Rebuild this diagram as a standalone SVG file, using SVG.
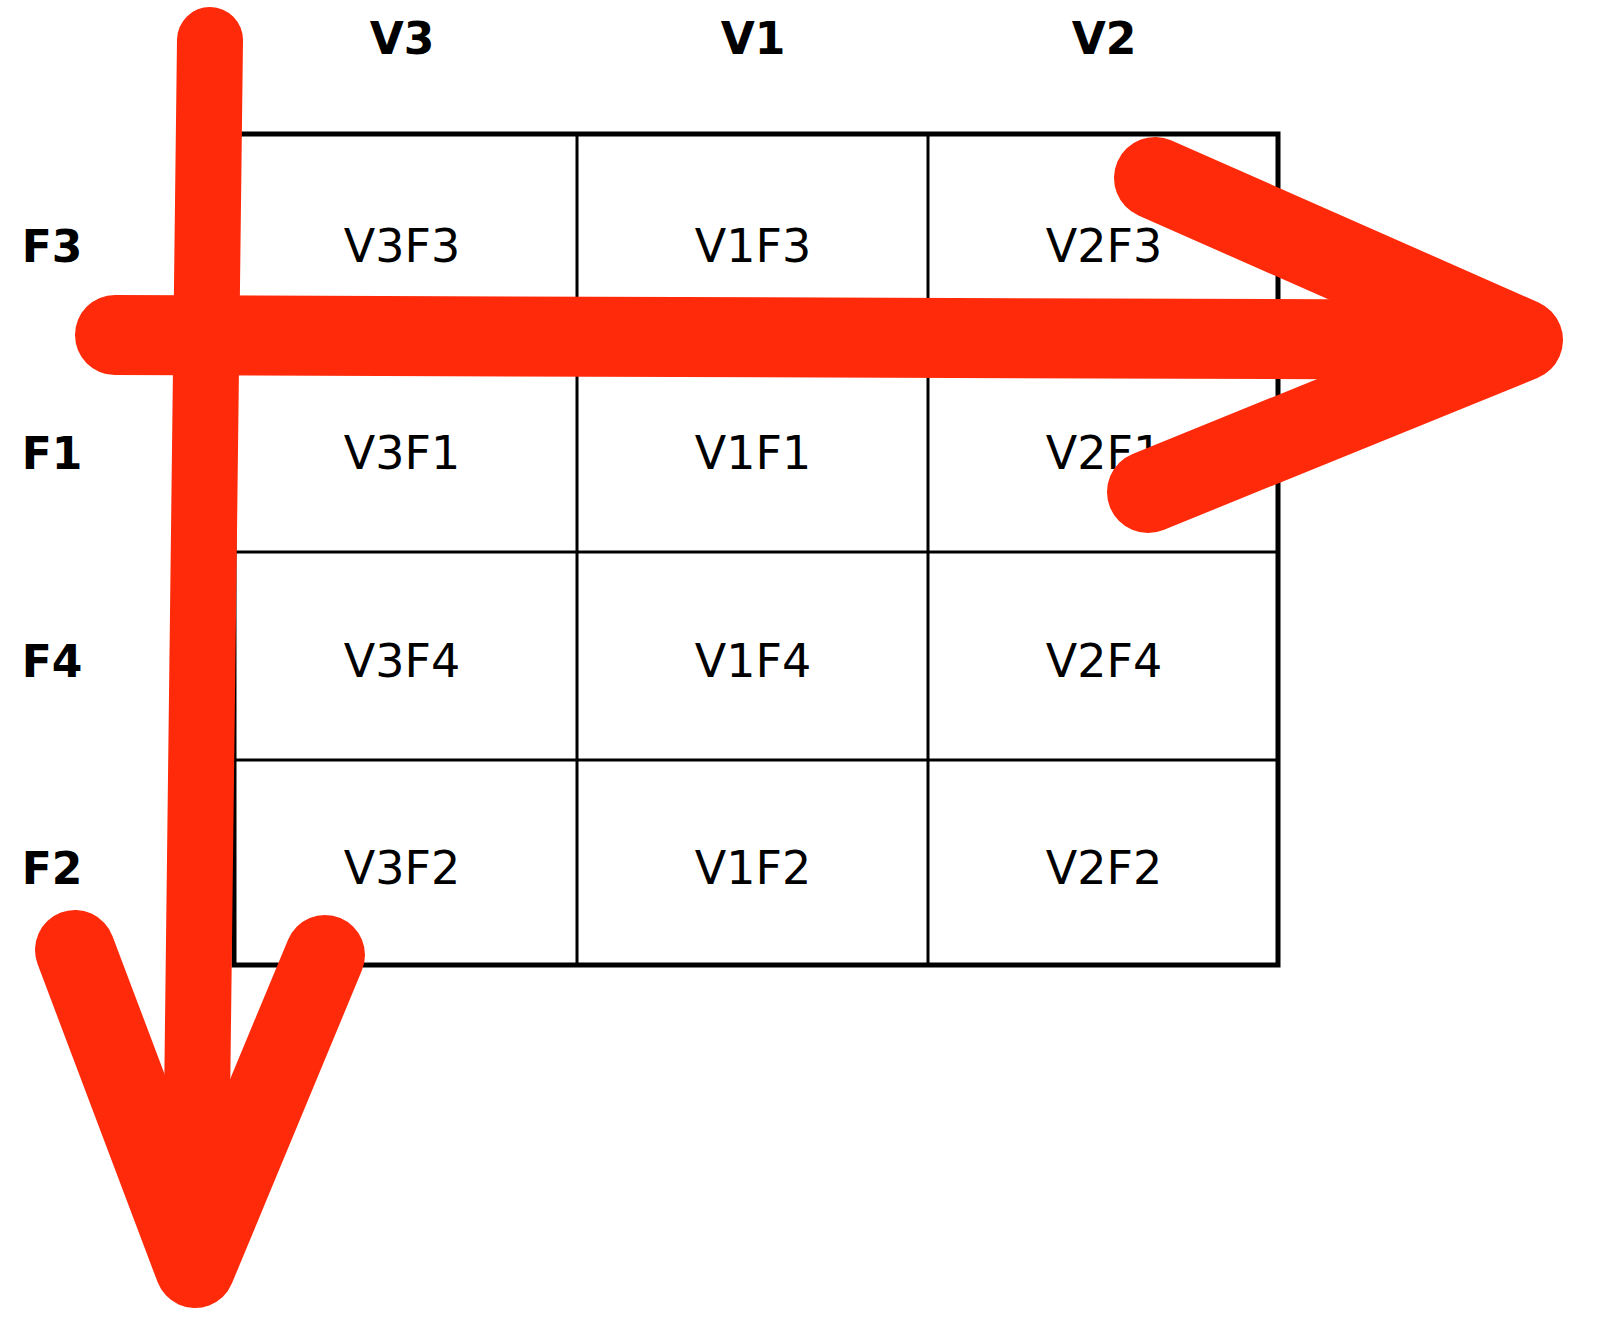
<svg xmlns="http://www.w3.org/2000/svg" width="1597" height="1337" viewBox="0 0 1597 1337">
<style>
.h{font-family:"DejaVu Sans",sans-serif;font-weight:bold;font-size:44px;text-anchor:middle;fill:#000}
.c{font-family:"DejaVu Sans",sans-serif;font-size:46px;text-anchor:middle;fill:#000}
.g{stroke:#000;stroke-width:3;fill:none}
.r{stroke:#ff2a0a;stroke-linecap:round;stroke-linejoin:round;fill:none}
</style>
<rect width="1597" height="1337" fill="#fff"/>
<g id="table">
<rect x="234" y="134" width="1044" height="831" fill="#fff" stroke="#000" stroke-width="5"/>
<path class="g" d="M577 134V965M928 134V965M234 345H1278M234 552H1278M234 760H1278"/>
</g>
<g id="headers">
<text class="h" x="402" y="54">V3</text><text class="h" x="753" y="54">V1</text><text class="h" x="1104" y="54">V2</text>
<text class="h" x="52" y="262">F3</text><text class="h" x="52" y="469">F1</text><text class="h" x="52" y="677">F4</text><text class="h" x="52" y="884">F2</text>
</g>
<g id="cells">
<text class="c" x="402" y="262">V3F3</text><text class="c" x="753" y="262">V1F3</text><text class="c" x="1104" y="262">V2F3</text>
<text class="c" x="402" y="469">V3F1</text><text class="c" x="753" y="469">V1F1</text><text class="c" x="1104" y="469">V2F1</text>
<text class="c" x="402" y="677">V3F4</text><text class="c" x="753" y="677">V1F4</text><text class="c" x="1104" y="677">V2F4</text>
<text class="c" x="402" y="884">V3F2</text><text class="c" x="753" y="884">V1F2</text><text class="c" x="1104" y="884">V2F2</text>
</g>
<g id="connectors">
<path class="r" stroke-width="80" d="M115 335L1522 340"/>
<path class="r" stroke-width="82" d="M1155 178L1522 340L1148 492"/>
<path class="r" stroke-width="66" d="M210 40L195 1268"/>
<path class="r" stroke-width="80" d="M75 950L195 1268L325 955"/>
</g>
</svg>
